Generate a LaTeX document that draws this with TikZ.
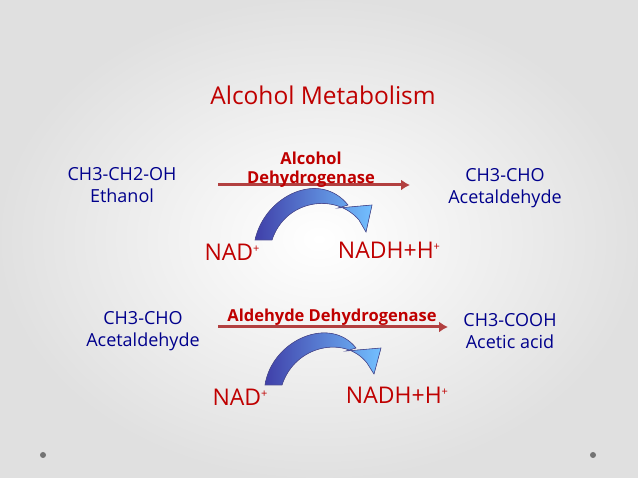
\documentclass[tikz,border=0pt]{standalone}
\usepackage{fontspec}
\setmainfont{Open Sans}
\usetikzlibrary{arrows.meta}
\newcommand{\myplus}{\raisebox{0.6ex}{\fontsize{11}{12}\selectfont+}}
\begin{document}
\begin{tikzpicture}[x=1pt,y=-1pt,
 bl/.style={text=blue!55!black,font=\fontsize{18}{22}\selectfont,align=center},
 rd/.style={text=red!75!black,font=\fontsize{16.5}{19}\selectfont\bfseries,align=center},
 nad/.style={text=red!75!black,font=\fontsize{23}{25}\selectfont},
 rx/.style={draw=red!60!black!75,line width=3pt,-{Latex[length=9pt,width=11pt]}},
 curv/.style={left color=blue!55!black!75,right color=blue!45!cyan!55!white,draw=blue!40!black!70,line width=0.6pt}]
\shade[inner color=white,outer color=black!12] (0,0) rectangle (638,478);
\useasboundingbox (0,0) rectangle (638,478);
\node[text=red!75!black,font=\fontsize{24.5}{26}\selectfont] (t) at (323,95) {Alcohol Metabolism};
% reaction 1
\node[bl] (a1) at (122,185) {CH3-CH2-OH\\Ethanol};
\node[bl] (b1) at (505,188) {CH3-CHO\\Acetaldehyde};
\coordinate (s1) at (218,185); \coordinate (e1) at (410,185);
\fill[curv] (255,240) .. controls (265,195) and (320,170) .. (348,205) -- (338,208) -- (372,205) -- (366,232) -- (359,220) .. controls (335,192) and (285,200) .. (272,240) -- cycle;
\draw[rx] (s1) -- (e1);
\node[rd] (l1) at (311,170) {Alcohol\\Dehydrogenase};
\node[nad] (n1) at (232,252) {NAD\myplus};
\node[nad] (h1) at (389,250) {NADH+H\myplus};
% reaction 2
\node[bl] (a2) at (143,331) {CH3-CHO\\Acetaldehyde};
\node[bl] (b2) at (510,331) {CH3-COOH\\Acetic acid};
\coordinate (s2) at (218,327); \coordinate (e2) at (448,327);
\fill[curv] (265,385) .. controls (272,340) and (330,315) .. (356,348) -- (346,351) -- (381,348) -- (374,374) -- (367,363) .. controls (345,335) and (295,345) .. (282,385) -- cycle;
\draw[rx] (s2) -- (e2);
\node[rd] (l2) at (332,317) {Aldehyde Dehydrogenase};
\node[nad] (n2) at (240,397) {NAD\myplus};
\node[nad] (h2) at (397,395) {NADH+H\myplus};
\fill[black!55] (43,455) circle (3) (593,455) circle (3);
\end{tikzpicture}
\end{document}
